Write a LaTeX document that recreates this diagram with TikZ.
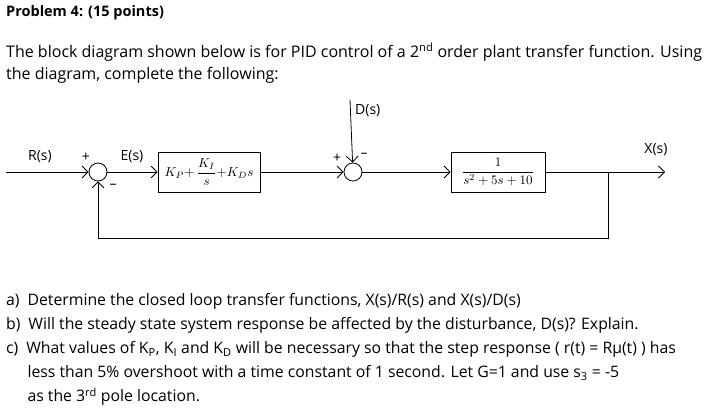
\documentclass[tikz,border=0pt]{standalone}
\usepackage{fontspec}
\usepackage{graphicx}
\setmainfont{Open Sans}
\usetikzlibrary{arrows.meta}
\begin{document}
\begin{tikzpicture}[x=1pt,y=-1pt,
  txt/.style={anchor=north west,inner sep=0,font=\fontsize{16}{22.5}\selectfont,align=left},
  blk/.style={draw,thick,inner sep=0},
  sum/.style={draw,thick,circle,minimum size=18pt,inner sep=0},
  lbl/.style={font=\fontsize{14}{16}\selectfont,inner sep=1pt},
  arr/.style={thick,-{Straight Barb[length=6pt]}},
  ln/.style={thick}]
\useasboundingbox (0,0) rectangle (722,417);
\node[txt,font=\bfseries\fontsize{14.5}{16}\selectfont] (title) at (6,5) {Problem 4: (15 points)};
\node[txt,font=\fontsize{16}{22}\selectfont] (intro) at (6,43) {The block diagram shown below is for PID control of a 2\textsuperscript{nd} order plant transfer function. Using\\the diagram, complete the following:};
\node[sum] (s1) at (98,172) {};
\node[blk,minimum width=102pt,minimum height=40pt] (pid) at (209,172) {\scalebox{1.3}{$\displaystyle K_P{+}\,\frac{K_I}{s}{+}K_D s$}};
\node[sum] (s2) at (353,172) {};
\node[blk,minimum width=94pt,minimum height=40pt] (plant) at (498,172) {\scalebox{1.3}{$\displaystyle\frac{1}{s^2+5s+10}$}};
\coordinate (rin) at (6,172);
\coordinate (xout) at (665,172);
\coordinate (tap) at (608,172);
\coordinate (din) at (350,100);
\coordinate (fb) at (608,238);
\coordinate (fb2) at (98,238);
\draw[arr] (rin) -- (s1);
\draw[arr] (s1) -- (pid);
\draw[arr] (pid) -- (s2);
\draw[arr] (s2) -- (plant);
\draw[arr] (plant) -- (xout);
\draw[arr] (din) -- (s2);
\draw[ln] (tap) -- (fb) -- (fb2);
\draw[arr] (fb2) -- (s1);
\node[lbl] (r) at (40,157) {R(s)};
\node[lbl] (e) at (132,157) {E(s)};
\node[lbl] (p1) at (86,157) {+};
\node[lbl] (m1) at (113,186) {--};
\node[lbl] (p2) at (337,158) {+};
\node[lbl] (m2) at (364,155) {--};
\node[lbl,anchor=west] (d) at (354,111) {D(s)};
\node[lbl] (x) at (656,150) {X(s)};
\node[txt,font=\fontsize{15.8}{24}\selectfont] (q) at (6,293) {%
a)\enspace Determine the closed loop transfer functions, X(s)/R(s) and X(s)/D(s)\\
b)\enspace Will the steady state system response be affected by the disturbance, D(s)? Explain.\\
c)\enspace What values of K\textsubscript{P}, K\textsubscript{I} and K\textsubscript{D} will be necessary so that the step response ( r(t) = Rμ(t) ) has\\
\hspace*{1.35em}less than 5\% overshoot with a time constant of 1 second. Let G=1 and use s\textsubscript{3} = -5\\
\hspace*{1.35em}as the 3\textsuperscript{rd} pole location.};
\end{tikzpicture}
\end{document}
